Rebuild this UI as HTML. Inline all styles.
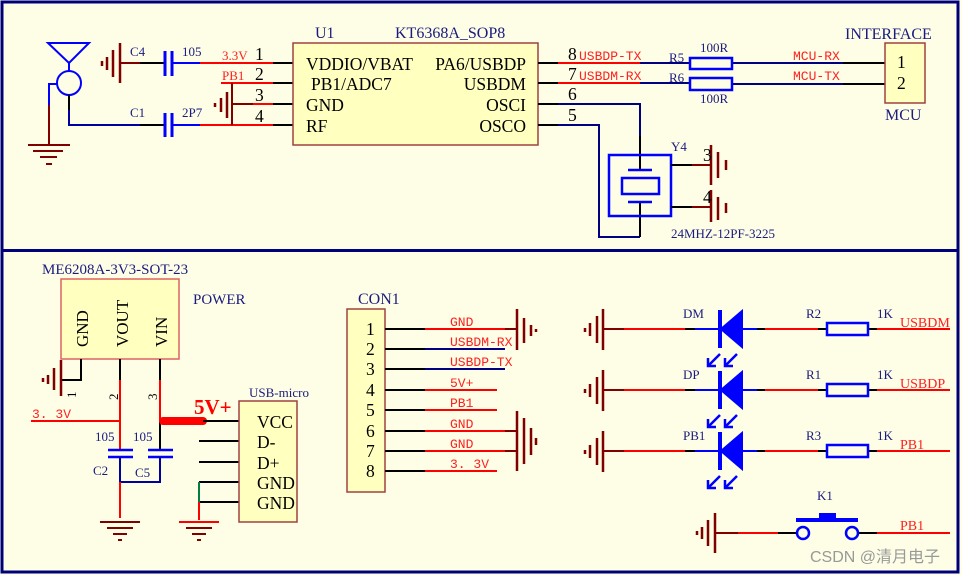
<!DOCTYPE html>
<html><head><meta charset="utf-8"><style>
html,body{margin:0;padding:0;background:#fefee6;}
svg{display:block;font-family:"Liberation Serif",serif;}
.m{font-family:"Liberation Mono",monospace;}
</style></head><body>
<svg width="962" height="575" viewBox="0 0 962 575" xmlns="http://www.w3.org/2000/svg">
<rect x="0" y="0" width="962" height="575" fill="#fefee6"/>
<rect x="2" y="2" width="956" height="570" fill="none" stroke="#00007a" stroke-width="3"/>
<line x1="2" y1="250.5" x2="958" y2="250.5" stroke="#00007a" stroke-width="3"/>
<g fill="none" stroke-width="2">
<path d="M48 43 H89 L69 63 Z M69 63 V71" stroke="#0000ff"/>
<circle cx="69" cy="83" r="12" stroke="#0000ff"/>
<path d="M57 84 H49 V105" stroke="#0000ff"/>
<path d="M49 105 V145" stroke="#800000"/>
<path d="M28 145 H70 M33 151 H63 M40 157 H57 M46 164 H52" stroke="#800000"/>
<path d="M69 95 V110" stroke="#000"/>
<path d="M69 110 V125 H140" stroke="#0000a0"/>
<path d="M140 125 H165" stroke="#000"/>
<path d="M165 113 V137 M172 113 V137" stroke="#0000ff" stroke-width="3"/>
<path d="M172 125 H200" stroke="#0000ff"/>
<path d="M200 125 H273" stroke="#ff0000"/>
<path d="M273 125 H293" stroke="#000"/>
<path d="M120 43 V83 M113 50 V77 M107 57 V70 M102 61 V66" stroke="#800000" stroke-width="2.5"/>
<path d="M120 63 H140" stroke="#800000"/><path d="M140 63 H165" stroke="#000"/>
<path d="M165 51 V76 M172 51 V76" stroke="#0000ff" stroke-width="3"/>
<path d="M172 63 H200" stroke="#0000ff"/><path d="M200 63 H273" stroke="#ff0000"/><path d="M273 63 H293" stroke="#000"/>
<path d="M221 83 H273" stroke="#ff0000"/><path d="M273 83 H293" stroke="#000"/>
<path d="M232 83 V125" stroke="#800000"/>
<path d="M232 104 H253" stroke="#800000"/><path d="M253 104 H273" stroke="#ff0000"/><path d="M273 104 H293" stroke="#000"/>
<path d="M227 92 V118 M221 98 V112 M215 103 V107" stroke="#800000" stroke-width="2.5"/>
<rect x="293" y="43" width="245" height="102" fill="#ffffc0" stroke="#a04040" stroke-width="1.5"/>
<path d="M538 63 H558 M538 83 H558 M538 104 H558 M538 125 H558" stroke="#000"/>
<path d="M558 63 H640 M558 83 H640" stroke="#ff0000"/>
<path d="M640 63 H690 M640 83 H690 M732 63 H843 M732 84 H843" stroke="#000080"/>
<rect x="690" y="58" width="42" height="11" stroke="#0000ff" stroke-width="2.5"/>
<rect x="690" y="78" width="42" height="12" stroke="#0000ff" stroke-width="2.5"/>
<path d="M843 63 H885 M843 84 H885" stroke="#000"/>
<rect x="885" y="43" width="40" height="60" fill="#ffffc0" stroke="#a04040" stroke-width="1.5"/>
<path d="M558 104 H640 V136" stroke="#000080"/><path d="M640 136 V170" stroke="#000"/>
<path d="M558 125 H599 V237 H640" stroke="#000080"/><path d="M640 237 V202" stroke="#000"/>
<rect x="609" y="155" width="62" height="61" stroke="#0000ff" stroke-width="2.5"/>
<path d="M628 170 H652 M628 202 H652" stroke="#0000ff" stroke-width="2.5"/>
<rect x="622" y="178" width="37" height="16" stroke="#0000ff" stroke-width="2.5"/>
<path d="M671 165 H692 M671 207 H692" stroke="#000"/><path d="M692 165 H711 M692 207 H711" stroke="#800000"/>
<path d="M711 145 V185 M718 152 V178 M726 160 V170 M711 190 V222 M718 197 V220 M726 203 V213" stroke="#800000" stroke-width="2.5"/>
<rect x="61" y="279" width="118" height="80" fill="#ffffc0" stroke="#e06060" stroke-width="1.5"/>
<path d="M81 359 V380 H61" stroke="#000"/>
<path d="M61 360 V396 M54 368 V390 M48 375 V384 M43 378 V382" stroke="#800000" stroke-width="2.5"/>
<path d="M120 359 V380 M160 359 V380" stroke="#000"/>
<path d="M120 380 V450 M160 380 V421" stroke="#ff0000"/>
<path d="M31 421 H120" stroke="#ff0000"/>
<path d="M160 421 V450" stroke="#000"/>
<path d="M163 421 H203" stroke="#ff0000" stroke-width="8" stroke-linecap="round"/>
<path d="M203 421 H239" stroke="#000"/>
<path d="M108 450 H133 M108 457 H133 M148 450 H173 M148 457 H173" stroke="#0000ff" stroke-width="2.5"/>
<path d="M120 457 V482 H160 V457" stroke="#0000a0"/>
<path d="M120 482 V518" stroke="#ff0000"/>
<path d="M100 522 H140 M107 528 H133 M113 534 H127 M118 540 H122" stroke="#800000"/>
<path d="M199 441 H239 M199 462 H239 M199 482 H239 M199 502 H239" stroke="#000"/>
<path d="M199 482 V502" stroke="#008040"/><path d="M199 502 V520" stroke="#ff0000"/>
<path d="M179 522 H219" stroke="#ff0000"/><path d="M186 528 H212 M192 534 H206 M197 540 H201" stroke="#800000"/>
<rect x="239" y="401" width="58" height="121" fill="#ffffc0" stroke="#a04040" stroke-width="1.5"/>
<rect x="347" y="309" width="38" height="183" fill="#ffffc0" stroke="#a04040" stroke-width="1.5"/>
<path d="M385 329 H425 M385 349 H425 M385 369 H425 M385 390 H425 M385 410 H425 M385 431 H425 M385 451 H425 M385 471 H425" stroke="#000"/>
<path d="M425 329 H505 M425 390 H497 M425 410 H497 M425 431 H505 M425 451 H505 M425 471 H497" stroke="#ff0000"/>
<path d="M425 349 H505 M425 369 H505" stroke="#000080"/>
<path d="M505 329 H517 M505 431 H517 M505 451 H517" stroke="#800000"/>
<path d="M517 309 V350 M524 318 V343 M531 325 V336 M536 329 V332 M517 411 V471 M524 418 V464 M531 428 V455 M536 438 V445" stroke="#800000" stroke-width="2.5"/>
<g id="led">
<path d="M603 309 V350 M597 316 V343 M590 323 V336 M585 328 V332" stroke="#800000" stroke-width="2.5"/>
<path d="M603 329 H624" stroke="#800000"/><path d="M624 329 H685" stroke="#ff0000"/><path d="M685 329 H695 M757 329 H765" stroke="#000"/>
<path d="M695 329 H720 M742 329 H757" stroke="#0000ff"/>
<path d="M720 310 V348" stroke="#0000ff" stroke-width="4"/>
<path d="M742 311 V347 L721 329 Z" fill="#0000ff" stroke="#0000ff"/>
<path d="M765 329 H818 M877 329 H950" stroke="#ff0000"/><path d="M818 329 H827 M868 329 H877" stroke="#000"/>
<rect x="827" y="323" width="41" height="12" stroke="#0000ff" stroke-width="2.5"/>
<path d="M720 354 L709 365 M737 354 L726 365" stroke="#0000ff" stroke-width="2.5"/>
<path d="M708 358 V366 H716 M725 358 V366 H733" stroke="#0000ff" stroke-width="2.5"/>
</g>
<use href="#led" transform="translate(0,61)"/>
<use href="#led" transform="translate(0,122)"/>
<path d="M715 513 V553 M708 520 V546 M702 527 V539 M697 531 V535" stroke="#800000" stroke-width="2.5"/>
<path d="M715 533 H738" stroke="#800000"/><path d="M738 533 H778 M877 533 H950" stroke="#ff0000"/>
<path d="M778 533 H797 M858 533 H877" stroke="#000"/>
<circle cx="803" cy="533" r="6" stroke="#0000ff" stroke-width="2.5"/><circle cx="852" cy="533" r="6" stroke="#0000ff" stroke-width="2.5"/>
<path d="M796 520 H858" stroke="#0000ff" stroke-width="4"/>
<rect x="819" y="513" width="17" height="7" fill="#0000ff" stroke="none"/>
</g>
<g fill="#000" font-size="17.5">
<text x="306" y="70">VDDIO/VBAT</text><text x="311" y="90">PB1/ADC7</text><text x="306" y="111">GND</text><text x="306" y="132">RF</text>
<text x="526" y="70" text-anchor="end">PA6/USBDP</text><text x="526" y="90" text-anchor="end">USBDM</text><text x="526" y="111" text-anchor="end">OSCI</text><text x="526" y="132" text-anchor="end">OSCO</text>
<text x="255" y="60">1</text><text x="255" y="80">2</text><text x="255" y="101">3</text><text x="255" y="122">4</text>
<text x="568" y="60">8</text><text x="568" y="80">7</text><text x="568" y="100">6</text><text x="568" y="121">5</text>
<text x="897" y="68">1</text><text x="897" y="89">2</text>
<text x="703" y="161">3</text><text x="703" y="203">4</text>
<text x="257" y="428">VCC</text><text x="257" y="448">D-</text><text x="257" y="469">D+</text><text x="257" y="489">GND</text><text x="257" y="509">GND</text>
<text x="366" y="335">1</text><text x="366" y="355">2</text><text x="366" y="375">3</text><text x="366" y="396">4</text><text x="366" y="416">5</text><text x="366" y="437">6</text><text x="366" y="457">7</text><text x="366" y="477">8</text>
</g>
<g fill="#000" font-size="17">
<text transform="translate(88,347) rotate(-90)">GND</text>
<text transform="translate(128,347) rotate(-90)">VOUT</text>
<text transform="translate(167,347) rotate(-90)">VIN</text>
<text transform="translate(76,398) rotate(-90)" font-size="13">1</text>
<text transform="translate(118,400) rotate(-90)" font-size="13">2</text>
<text transform="translate(157,400) rotate(-90)" font-size="13">3</text>
</g>
<g fill="#1a1a80">
<text x="315" y="38" font-size="16">U1</text><text x="395" y="38" font-size="16">KT6368A_SOP8</text>
<text x="130" y="56" font-size="13">C4</text><text x="182" y="56" font-size="13">105</text>
<text x="130" y="117" font-size="13">C1</text><text x="182" y="117" font-size="13">2P7</text>
<text x="669" y="62" font-size="13">R5</text><text x="669" y="82" font-size="13">R6</text>
<text x="700" y="52" font-size="13">100R</text><text x="700" y="103" font-size="13">100R</text>
<text x="845" y="39" font-size="16">INTERFACE</text><text x="885" y="120" font-size="16">MCU</text>
<text x="671" y="151" font-size="13">Y4</text><text x="671" y="238" font-size="13">24MHZ-12PF-3225</text>
<text x="42" y="274" font-size="15">ME6208A-3V3-SOT-23</text>
<text x="193" y="304" font-size="15">POWER</text>
<text x="358" y="304" font-size="16">CON1</text>
<text x="249" y="397" font-size="13">USB-micro</text>
<text x="95" y="441" font-size="13">105</text><text x="133" y="441" font-size="13">105</text>
<text x="93" y="475" font-size="13">C2</text><text x="135" y="477" font-size="13">C5</text>
<text x="683" y="318" font-size="13">DM</text><text x="683" y="379" font-size="13">DP</text><text x="683" y="440" font-size="13">PB1</text>
<text x="806" y="318" font-size="13">R2</text><text x="806" y="379" font-size="13">R1</text><text x="806" y="440" font-size="13">R3</text>
<text x="877" y="318" font-size="13">1K</text><text x="877" y="379" font-size="13">1K</text><text x="877" y="440" font-size="13">1K</text>
<text x="817" y="500" font-size="13">K1</text>
</g>
<g fill="#ff2020" font-size="13">
<text x="222" y="60">3.3V</text><text x="222" y="80">PB1</text>
<text x="579" y="60" class="m">USBDP-TX</text><text x="579" y="80" class="m">USBDM-RX</text>
<text x="793" y="60" class="m">MCU-RX</text><text x="793" y="80" class="m">MCU-TX</text>
<text x="32" y="418" class="m">3. 3V</text>
<text x="450" y="326" class="m">GND</text><text x="450" y="346" class="m">USBDM-RX</text><text x="450" y="366" class="m">USBDP-TX</text><text x="450" y="387" class="m">5V+</text><text x="450" y="407" class="m">PB1</text><text x="450" y="428" class="m">GND</text><text x="450" y="448" class="m">GND</text><text x="450" y="468" class="m">3. 3V</text>
<text x="900" y="327" font-size="14">USBDM</text><text x="900" y="388" font-size="14">USBDP</text><text x="900" y="449" font-size="14">PB1</text><text x="900" y="530" font-size="14">PB1</text>
<text x="194" y="414" font-size="21" font-weight="bold" fill="#ff0000">5V+</text>
</g>
<text x="810" y="562" font-size="16" fill="#999" font-family="'Liberation Sans','Noto Sans CJK SC',sans-serif">CSDN @清月电子</text>
</svg>
</body></html>
